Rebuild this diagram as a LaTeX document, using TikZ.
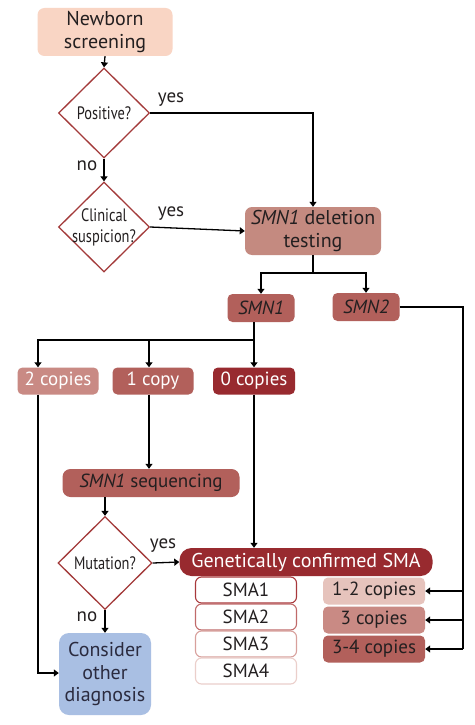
\documentclass[tikz,border=0pt]{standalone}
\usepackage{fontspec}
\setmainfont{PT Sans}
\newfontfamily\condfont[FakeStretch=0.8]{PT Sans}
\usetikzlibrary{shapes.geometric,arrows.meta,calc}
\definecolor{peach}{HTML}{F9D5C4}
\definecolor{rosea}{HTML}{C48A80}
\definecolor{roseb}{HTML}{B2605B}
\definecolor{rosec}{HTML}{C98A84}
\definecolor{rosed}{HTML}{982A2F}
\definecolor{rosee}{HTML}{E6C3BC}
\definecolor{dia}{HTML}{A33A3A}
\definecolor{txt}{HTML}{231F20}
\definecolor{blu}{HTML}{A9BFE3}
\definecolor{smaa}{HTML}{A8383B}
\definecolor{smab}{HTML}{C06A6A}
\definecolor{smac}{HTML}{D8A09C}
\definecolor{smad}{HTML}{EBCFCB}
\begin{document}
\begin{tikzpicture}[x=1pt,y=-1pt,
  box/.style={rectangle,rounded corners=7pt,inner sep=0pt,align=center,text=txt,
    font=\fontsize{20}{23}\selectfont},
  small/.style={box,rounded corners=5pt,font=\fontsize{19}{21}\selectfont},
  dec/.style={diamond,draw=dia,line width=1.3pt,fill=white,inner sep=0pt},
  dectext/.style={inner sep=0pt,align=center,text=txt,font=\condfont\fontsize{18}{21}\selectfont},
  sma/.style={rectangle,rounded corners=6pt,draw,line width=1.1pt,fill=white,inner sep=0pt,
    minimum width=101,minimum height=26,text=txt,font=\fontsize{19}{21}\selectfont},
  lab/.style={inner sep=0pt,text=txt,font=\fontsize{19}{21}\selectfont},
  arr/.style={-{Triangle[length=5pt,width=7pt]},line width=1.3pt,black},
  ln/.style={line width=1.3pt,black}]
\useasboundingbox (0,0) rectangle (474,725);
\fill[white] (0,0) rectangle (474,725);

\node[box,fill=peach,minimum width=135,minimum height=48] (nb) at (105,32) {Newborn\\screening};
\node[dec,minimum width=91,minimum height=90] (pos) at (104,113) {};
\node[dectext] (post) at (pos) {Positive?};
\node[dec,minimum width=91,minimum height=90] (cs) at (104,227) {};
\node[dectext] (cst) at (cs) {Clinical\\suspicion?};
\node[box,fill=rosea,minimum width=136,minimum height=48] (del) at (313,231) {\textit{SMN1} deletion\\testing};
\node[small,fill=roseb,minimum width=67,minimum height=28] (smn1) at (261,308) {\textit{SMN1}};
\node[small,fill=roseb,minimum width=67,minimum height=28] (smn2) at (366,307) {\textit{SMN2}};
\node[small,fill=rosec,text=white,minimum width=81,minimum height=27] (c2) at (58,381) {2 copies};
\node[small,fill=roseb,text=white,minimum width=81,minimum height=27] (c1) at (153,381) {1 copy};
\node[small,fill=rosed,text=white,minimum width=82,minimum height=27] (c0) at (254,381) {0 copies};
\node[small,fill=roseb,minimum width=177,minimum height=28,rounded corners=8pt] (seq) at (151,483) {\textit{SMN1} sequencing};
\node[dec,minimum width=94,minimum height=93] (mut) at (105,563) {};
\node[dectext] (mutt) at (mut) {Mutation?};
\node[box,fill=rosed,text=white,minimum width=253,minimum height=28,rounded corners=12pt] (gen) at (306,562) {Genetically confirmed SMA};
\node[sma,draw=smaa] (s1) at (246,590) {SMA1};
\node[sma,draw=smab] (s2) at (246,617) {SMA2};
\node[sma,draw=smac] (s3) at (246,644) {SMA3};
\node[sma,draw=smad] (s4) at (246,671) {SMA4};
\node[small,fill=rosee,minimum width=102,minimum height=27] (k1) at (374,591) {1-2 copies};
\node[small,fill=rosec,minimum width=102,minimum height=27] (k2) at (374,620) {3 copies};
\node[small,fill=roseb,minimum width=102,minimum height=27] (k3) at (374,649) {3-4 copies};
\node[box,fill=blu,minimum width=92,minimum height=82,rounded corners=10pt,
  font=\fontsize{20}{22.5}\selectfont,text={rgb,255:red,43;green,43;blue,63}] (cons) at (105,674) {Consider\\other\\diagnosis};

% labels
\node[lab] (y1) at (171,100) {yes};
\node[lab] (n1) at (87,166) {no};
\node[lab] (y2) at (171,214) {yes};
\node[lab] (y3) at (163,546) {yes};
\node[lab] (n3) at (87,617) {no};

% coordinates
\coordinate (d1) at (313,273);
\coordinate (j1) at (254,340);
\coordinate (r1) at (463,307);
\coordinate (b2) at (38,673);

% connectors
\draw[arr] (nb.south) -- (pos.north);
\draw[arr] (pos.south) -- (cs.north);
\draw[arr] (pos.east) -| (del.north);
\draw[arr] (cs.east) -- (del.west);
\draw[ln] (del.south) -- (d1);
\draw[arr] (d1) -| (smn1.north);
\draw[arr] (d1) -| (smn2.north);
\draw[ln] (smn1.south -| j1) -- (j1);
\draw[arr] (j1) -- (c0.north);
\draw[arr] (j1) -| (c1.north -| 149,0);
\draw[arr] (j1) -| (c2.north -| 38,0);
\draw[arr] (c2.south -| 38,0) -- (b2) -- (cons.west |- b2);
\draw[arr] (c1.south -| 149,0) -- (seq.north -| 149,0);
\draw[arr] (c0.south) -- (gen.north -| c0);
\draw[arr] (seq.south -| 105,0) -- (mut.north);
\draw[arr] (mut.east) -- (gen.west);
\draw[arr] (mut.south) -- (cons.north);
\draw[ln] (smn2.east) -- (r1) -- (r1 |- k3.east);
\draw[arr] (r1 |- k1.east) -- (k1.east);
\draw[arr] (r1 |- k2.east) -- (k2.east);
\draw[arr] (r1 |- k3.east) -- (k3.east);
\end{tikzpicture}
\end{document}
